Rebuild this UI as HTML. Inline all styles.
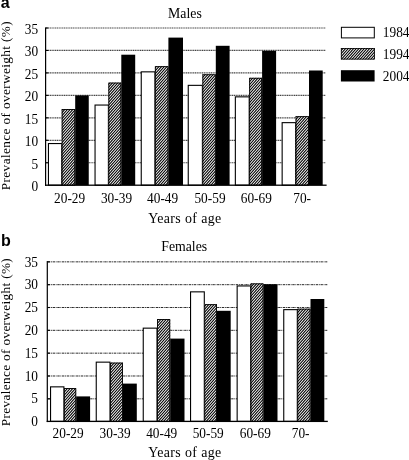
<!DOCTYPE html>
<html><head><meta charset="utf-8"><title>Prevalence of overweight</title>
<style>
html,body{margin:0;padding:0;background:#fff;}
svg{display:block;}
</style></head>
<body>
<svg width="409" height="460" viewBox="0 0 409 460">
<defs>
<pattern id="hatch" patternUnits="userSpaceOnUse" width="8" height="3">
<rect width="8" height="3" fill="#fff"/>
<path d="M-1 3.5 L3.5 -1.5 M1.67 3.5 L6.17 -1.5 M4.33 3.5 L8.83 -1.5 M7 3.5 L11.5 -1.5 M-3.67 3.5 L0.83 -1.5" stroke="#000" stroke-width="1.05"/>
</pattern>
</defs>
<rect width="409" height="460" fill="#fff"/>
<text x="0.8" y="8.2" font-family="'Liberation Sans', sans-serif" font-weight="bold" font-size="16">a</text>
<text x="0.9" y="245.5" font-family="'Liberation Sans', sans-serif" font-weight="bold" font-size="16">b</text>
<line x1="46.20" y1="28.00" x2="325.40" y2="28.00" stroke="#444" stroke-width="1.2" stroke-dasharray="1.2 0.57"/>
<line x1="45.60" y1="28.00" x2="48.20" y2="28.00" stroke="#000" stroke-width="1.1"/>
<line x1="46.20" y1="50.46" x2="325.40" y2="50.46" stroke="#444" stroke-width="1.2" stroke-dasharray="1.2 0.57"/>
<line x1="45.60" y1="50.46" x2="48.20" y2="50.46" stroke="#000" stroke-width="1.1"/>
<line x1="46.20" y1="72.91" x2="325.40" y2="72.91" stroke="#444" stroke-width="1.2" stroke-dasharray="1.2 0.57"/>
<line x1="45.60" y1="72.91" x2="48.20" y2="72.91" stroke="#000" stroke-width="1.1"/>
<line x1="46.20" y1="95.37" x2="325.40" y2="95.37" stroke="#444" stroke-width="1.2" stroke-dasharray="1.2 0.57"/>
<line x1="45.60" y1="95.37" x2="48.20" y2="95.37" stroke="#000" stroke-width="1.1"/>
<line x1="46.20" y1="117.83" x2="325.40" y2="117.83" stroke="#444" stroke-width="1.2" stroke-dasharray="1.2 0.57"/>
<line x1="45.60" y1="117.83" x2="48.20" y2="117.83" stroke="#000" stroke-width="1.1"/>
<line x1="46.20" y1="140.29" x2="325.40" y2="140.29" stroke="#444" stroke-width="1.2" stroke-dasharray="1.2 0.57"/>
<line x1="45.60" y1="140.29" x2="48.20" y2="140.29" stroke="#000" stroke-width="1.1"/>
<line x1="46.20" y1="162.74" x2="325.40" y2="162.74" stroke="#444" stroke-width="1.2" stroke-dasharray="1.2 0.57"/>
<line x1="45.60" y1="162.74" x2="48.20" y2="162.74" stroke="#000" stroke-width="1.1"/>
<rect x="48.45" y="143.55" width="13.25" height="41.65" fill="#fff" stroke="#000" stroke-width="1.1"/>
<rect x="61.70" y="109.00" width="13.50" height="76.20" fill="url(#hatch)"/>
<rect x="62.15" y="109.45" width="12.60" height="75.75" fill="none" stroke="#000" stroke-width="0.9"/>
<rect x="75.20" y="95.40" width="13.55" height="89.80" fill="#000"/>
<rect x="95.05" y="105.05" width="13.35" height="80.15" fill="#fff" stroke="#000" stroke-width="1.1"/>
<rect x="108.40" y="82.60" width="12.90" height="102.60" fill="url(#hatch)"/>
<rect x="108.85" y="83.05" width="12.00" height="102.15" fill="none" stroke="#000" stroke-width="0.9"/>
<rect x="121.30" y="54.70" width="13.90" height="130.50" fill="#000"/>
<rect x="141.25" y="71.85" width="13.65" height="113.35" fill="#fff" stroke="#000" stroke-width="1.1"/>
<rect x="154.90" y="66.20" width="13.50" height="119.00" fill="url(#hatch)"/>
<rect x="155.35" y="66.65" width="12.60" height="118.55" fill="none" stroke="#000" stroke-width="0.9"/>
<rect x="168.40" y="37.60" width="14.60" height="147.60" fill="#000"/>
<rect x="188.25" y="85.35" width="14.15" height="99.85" fill="#fff" stroke="#000" stroke-width="1.1"/>
<rect x="202.40" y="74.30" width="13.40" height="110.90" fill="url(#hatch)"/>
<rect x="202.85" y="74.75" width="12.50" height="110.45" fill="none" stroke="#000" stroke-width="0.9"/>
<rect x="215.80" y="45.80" width="13.80" height="139.40" fill="#000"/>
<rect x="235.35" y="96.85" width="13.85" height="88.35" fill="#fff" stroke="#000" stroke-width="1.1"/>
<rect x="249.20" y="77.80" width="12.90" height="107.40" fill="url(#hatch)"/>
<rect x="249.65" y="78.25" width="12.00" height="106.95" fill="none" stroke="#000" stroke-width="0.9"/>
<rect x="262.10" y="50.80" width="14.00" height="134.40" fill="#000"/>
<rect x="282.15" y="122.65" width="13.45" height="62.55" fill="#fff" stroke="#000" stroke-width="1.1"/>
<rect x="295.60" y="116.20" width="13.40" height="69.00" fill="url(#hatch)"/>
<rect x="296.05" y="116.65" width="12.50" height="68.55" fill="none" stroke="#000" stroke-width="0.9"/>
<rect x="309.00" y="70.50" width="13.70" height="114.70" fill="#000"/>
<rect x="45.00" y="27.45" width="1.2" height="158.40" fill="#000"/>
<rect x="45.00" y="184.55" width="281.60" height="1.3" fill="#000"/>
<text transform="translate(38.20 33.90) scale(0.92 1)" text-anchor="end" font-family="'Liberation Serif', serif" font-size="14.5">35</text>
<text transform="translate(38.20 56.36) scale(0.92 1)" text-anchor="end" font-family="'Liberation Serif', serif" font-size="14.5">30</text>
<text transform="translate(38.20 78.81) scale(0.92 1)" text-anchor="end" font-family="'Liberation Serif', serif" font-size="14.5">25</text>
<text transform="translate(38.20 101.27) scale(0.92 1)" text-anchor="end" font-family="'Liberation Serif', serif" font-size="14.5">20</text>
<text transform="translate(38.20 123.73) scale(0.92 1)" text-anchor="end" font-family="'Liberation Serif', serif" font-size="14.5">15</text>
<text transform="translate(38.20 146.19) scale(0.92 1)" text-anchor="end" font-family="'Liberation Serif', serif" font-size="14.5">10</text>
<text transform="translate(38.20 168.64) scale(0.92 1)" text-anchor="end" font-family="'Liberation Serif', serif" font-size="14.5">5</text>
<text transform="translate(38.20 191.10) scale(0.92 1)" text-anchor="end" font-family="'Liberation Serif', serif" font-size="14.5">0</text>
<text transform="translate(69.60 203.20) scale(0.92 1)" text-anchor="middle" font-family="'Liberation Serif', serif" font-size="14.5">20-29</text>
<text transform="translate(116.50 203.20) scale(0.92 1)" text-anchor="middle" font-family="'Liberation Serif', serif" font-size="14.5">30-39</text>
<text transform="translate(162.60 203.20) scale(0.92 1)" text-anchor="middle" font-family="'Liberation Serif', serif" font-size="14.5">40-49</text>
<text transform="translate(210.00 203.20) scale(0.92 1)" text-anchor="middle" font-family="'Liberation Serif', serif" font-size="14.5">50-59</text>
<text transform="translate(256.30 203.20) scale(0.92 1)" text-anchor="middle" font-family="'Liberation Serif', serif" font-size="14.5">60-69</text>
<text transform="translate(302.10 203.20) scale(0.92 1)" text-anchor="middle" font-family="'Liberation Serif', serif" font-size="14.5">70-</text>
<text x="184.90" y="17.60" text-anchor="middle" font-family="'Liberation Serif', serif" font-size="13.8">Males</text>
<text x="184.70" y="222.60" text-anchor="middle" font-family="'Liberation Serif', serif" font-size="13.9" textLength="73.0" lengthAdjust="spacing">Years of age</text>
<text transform="translate(9.90 105.75) rotate(-90)" text-anchor="middle" font-family="'Liberation Serif', serif" font-size="13.3" textLength="168.9" lengthAdjust="spacing">Prevalence of overweight (%)</text>
<line x1="47.90" y1="261.85" x2="327.30" y2="261.85" stroke="#111" stroke-width="0.9" stroke-dasharray="2.4 0.7 0.9 0.7"/>
<line x1="47.30" y1="261.85" x2="49.90" y2="261.85" stroke="#000" stroke-width="1.1"/>
<line x1="47.90" y1="284.68" x2="327.30" y2="284.68" stroke="#111" stroke-width="0.9" stroke-dasharray="2.4 0.7 0.9 0.7"/>
<line x1="47.30" y1="284.68" x2="49.90" y2="284.68" stroke="#000" stroke-width="1.1"/>
<line x1="47.90" y1="307.51" x2="327.30" y2="307.51" stroke="#111" stroke-width="0.9" stroke-dasharray="2.4 0.7 0.9 0.7"/>
<line x1="47.30" y1="307.51" x2="49.90" y2="307.51" stroke="#000" stroke-width="1.1"/>
<line x1="47.90" y1="330.34" x2="327.30" y2="330.34" stroke="#111" stroke-width="0.9" stroke-dasharray="2.4 0.7 0.9 0.7"/>
<line x1="47.30" y1="330.34" x2="49.90" y2="330.34" stroke="#000" stroke-width="1.1"/>
<line x1="47.90" y1="353.16" x2="327.30" y2="353.16" stroke="#111" stroke-width="0.9" stroke-dasharray="2.4 0.7 0.9 0.7"/>
<line x1="47.30" y1="353.16" x2="49.90" y2="353.16" stroke="#000" stroke-width="1.1"/>
<line x1="47.90" y1="375.99" x2="327.30" y2="375.99" stroke="#111" stroke-width="0.9" stroke-dasharray="2.4 0.7 0.9 0.7"/>
<line x1="47.30" y1="375.99" x2="49.90" y2="375.99" stroke="#000" stroke-width="1.1"/>
<line x1="47.90" y1="398.82" x2="327.30" y2="398.82" stroke="#111" stroke-width="0.9" stroke-dasharray="2.4 0.7 0.9 0.7"/>
<line x1="47.30" y1="398.82" x2="49.90" y2="398.82" stroke="#000" stroke-width="1.1"/>
<rect x="50.55" y="386.85" width="13.35" height="34.55" fill="#fff" stroke="#000" stroke-width="1.1"/>
<rect x="63.90" y="388.10" width="12.30" height="33.30" fill="url(#hatch)"/>
<rect x="64.35" y="388.55" width="11.40" height="32.85" fill="none" stroke="#000" stroke-width="0.9"/>
<rect x="76.20" y="396.40" width="13.90" height="25.00" fill="#000"/>
<rect x="96.25" y="362.15" width="13.75" height="59.25" fill="#fff" stroke="#000" stroke-width="1.1"/>
<rect x="110.00" y="362.60" width="12.90" height="58.80" fill="url(#hatch)"/>
<rect x="110.45" y="363.05" width="12.00" height="58.35" fill="none" stroke="#000" stroke-width="0.9"/>
<rect x="122.90" y="383.60" width="13.90" height="37.80" fill="#000"/>
<rect x="143.25" y="328.15" width="13.75" height="93.25" fill="#fff" stroke="#000" stroke-width="1.1"/>
<rect x="157.00" y="319.10" width="13.20" height="102.30" fill="url(#hatch)"/>
<rect x="157.45" y="319.55" width="12.30" height="101.85" fill="none" stroke="#000" stroke-width="0.9"/>
<rect x="170.20" y="338.60" width="14.30" height="82.80" fill="#000"/>
<rect x="190.55" y="291.85" width="13.75" height="129.55" fill="#fff" stroke="#000" stroke-width="1.1"/>
<rect x="204.30" y="304.20" width="12.70" height="117.20" fill="url(#hatch)"/>
<rect x="204.75" y="304.65" width="11.80" height="116.75" fill="none" stroke="#000" stroke-width="0.9"/>
<rect x="217.00" y="310.80" width="13.70" height="110.60" fill="#000"/>
<rect x="237.15" y="285.95" width="13.45" height="135.45" fill="#fff" stroke="#000" stroke-width="1.1"/>
<rect x="250.60" y="283.40" width="12.90" height="138.00" fill="url(#hatch)"/>
<rect x="251.05" y="283.85" width="12.00" height="137.55" fill="none" stroke="#000" stroke-width="0.9"/>
<rect x="263.50" y="284.20" width="14.00" height="137.20" fill="#000"/>
<rect x="283.75" y="309.65" width="13.55" height="111.75" fill="#fff" stroke="#000" stroke-width="1.1"/>
<rect x="297.30" y="308.70" width="13.20" height="112.70" fill="url(#hatch)"/>
<rect x="297.75" y="309.15" width="12.30" height="112.25" fill="none" stroke="#000" stroke-width="0.9"/>
<rect x="310.50" y="299.00" width="13.80" height="122.40" fill="#000"/>
<rect x="46.70" y="261.05" width="1.2" height="161.00" fill="#000"/>
<rect x="46.70" y="420.75" width="281.10" height="1.3" fill="#000"/>
<text transform="translate(38.00 266.50) scale(0.92 1)" text-anchor="end" font-family="'Liberation Serif', serif" font-size="14.5">35</text>
<text transform="translate(38.00 289.33) scale(0.92 1)" text-anchor="end" font-family="'Liberation Serif', serif" font-size="14.5">30</text>
<text transform="translate(38.00 312.16) scale(0.92 1)" text-anchor="end" font-family="'Liberation Serif', serif" font-size="14.5">25</text>
<text transform="translate(38.00 334.99) scale(0.92 1)" text-anchor="end" font-family="'Liberation Serif', serif" font-size="14.5">20</text>
<text transform="translate(38.00 357.81) scale(0.92 1)" text-anchor="end" font-family="'Liberation Serif', serif" font-size="14.5">15</text>
<text transform="translate(38.00 380.64) scale(0.92 1)" text-anchor="end" font-family="'Liberation Serif', serif" font-size="14.5">10</text>
<text transform="translate(38.00 403.47) scale(0.92 1)" text-anchor="end" font-family="'Liberation Serif', serif" font-size="14.5">5</text>
<text transform="translate(38.00 426.30) scale(0.92 1)" text-anchor="end" font-family="'Liberation Serif', serif" font-size="14.5">0</text>
<text transform="translate(68.10 437.60) scale(0.92 1)" text-anchor="middle" font-family="'Liberation Serif', serif" font-size="14.5">20-29</text>
<text transform="translate(115.10 437.60) scale(0.92 1)" text-anchor="middle" font-family="'Liberation Serif', serif" font-size="14.5">30-39</text>
<text transform="translate(161.70 437.60) scale(0.92 1)" text-anchor="middle" font-family="'Liberation Serif', serif" font-size="14.5">40-49</text>
<text transform="translate(208.20 437.60) scale(0.92 1)" text-anchor="middle" font-family="'Liberation Serif', serif" font-size="14.5">50-59</text>
<text transform="translate(255.30 437.60) scale(0.92 1)" text-anchor="middle" font-family="'Liberation Serif', serif" font-size="14.5">60-69</text>
<text transform="translate(300.60 437.60) scale(0.92 1)" text-anchor="middle" font-family="'Liberation Serif', serif" font-size="14.5">70-</text>
<text x="184.20" y="250.50" text-anchor="middle" font-family="'Liberation Serif', serif" font-size="13.8">Females</text>
<text x="184.70" y="457.00" text-anchor="middle" font-family="'Liberation Serif', serif" font-size="13.9" textLength="73.0" lengthAdjust="spacing">Years of age</text>
<text transform="translate(9.70 342.20) rotate(-90)" text-anchor="middle" font-family="'Liberation Serif', serif" font-size="13.3" textLength="167.9" lengthAdjust="spacing">Prevalence of overweight (%)</text>
<rect x="341.4" y="27.30" width="32.9" height="10.6" fill="#fff" stroke="#000" stroke-width="1"/>
<rect x="340.9" y="48.00" width="33.9" height="11.5" fill="url(#hatch)"/>
<rect x="341.3" y="48.40" width="33.1" height="10.7" fill="none" stroke="#000" stroke-width="0.8"/>
<rect x="340.9" y="70.20" width="33.7" height="11.3" fill="#000"/>
<text transform="translate(382.80 37.20) scale(0.92 1)" text-anchor="start" font-family="'Liberation Serif', serif" font-size="14.5">1984</text>
<text transform="translate(382.80 59.20) scale(0.92 1)" text-anchor="start" font-family="'Liberation Serif', serif" font-size="14.5">1994</text>
<text transform="translate(382.80 81.00) scale(0.92 1)" text-anchor="start" font-family="'Liberation Serif', serif" font-size="14.5">2004</text>
</svg>
</body></html>
